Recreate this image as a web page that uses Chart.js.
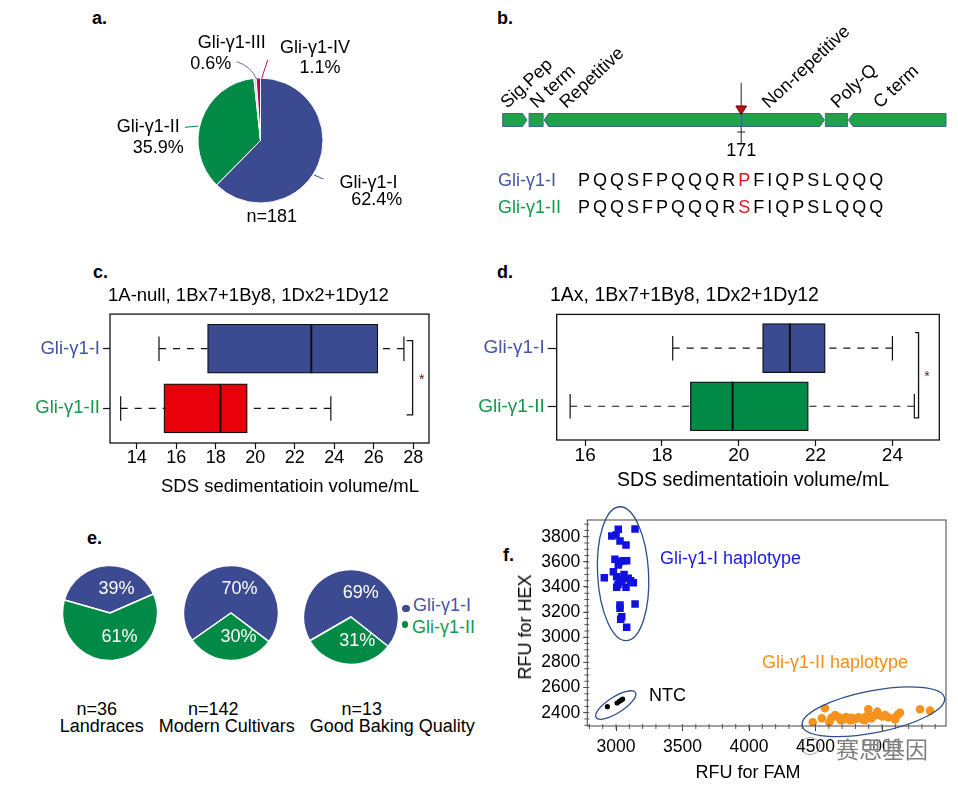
<!DOCTYPE html>
<html><head><meta charset="utf-8">
<script src="https://cdn.jsdelivr.net/npm/chart.js@4.4.1/dist/chart.umd.min.js"></script>
<style>
html,body{margin:0;padding:0;background:#fff;}
body{width:958px;height:790px;position:relative;overflow:hidden;font-family:"Liberation Sans",Arial,sans-serif;}
.t{position:absolute;white-space:nowrap;line-height:1;color:#000;}
.cv{position:absolute;}
</style></head><body>
<script>
// ---------------- DATA ----------------
// a. haplotype frequencies (n=181)
const aLabels = ['Gli-γ1-I','Gli-γ1-II','Gli-γ1-III','Gli-γ1-IV'];
const aPercent = [62.4, 35.9, 0.6, 1.1];
const aTotal = 181;
// b. gene structure (residue positions)
const bSegments = ['Sig.Pep','N term','Repetitive','Non-repetitive','Poly-Q','C term'];
const bStart = [1, 19.8, 30.5, 171.7, 231, 247.5];
const bEnd = [18.3, 29.8, 171.2, 230.3, 246.7, 317];
const bSite = 171;
const bSeqNames = ['Gli-γ1-I','Gli-γ1-II'];
const bSeqs = ['PQQSFPQQQRPFIQPSLQQQ','PQQSFPQQQRSFIQPSLQQQ'];
// c./d. boxplots
const boxCats = ['Gli-γ1-I','Gli-γ1-II'];
const boxXLabel = 'SDS sedimentatioin volume/mL';
const cTitle = '1A-null, 1Bx7+1By8, 1Dx2+1Dy12';
const cLow = [15.13, 13.19], cQ1 = [17.59, 15.38], cMedian = [22.84, 18.24], cQ3 = [26.21, 19.60], cHigh = [27.53, 23.83];
const cTicks = [14, 16, 18, 20, 22, 24, 26, 28];
const dTitle = '1Ax, 1Bx7+1By8, 1Dx2+1Dy12';
const dLow = [18.28, 15.61], dQ1 = [20.62, 18.74], dMedian = [21.33, 19.84], dQ3 = [22.25, 21.81], dHigh = [24.00, 24.57];
const dTicks = [16, 18, 20, 22, 24];
// e. haplotype share per group
const eGroups = ['Landraces','Modern Cultivars','Good Baking Quality'];
const eN = [36, 142, 13];
const eGliI = [39, 70, 69];
const eGliII = [61, 30, 31];
// f. KASP genotyping
const fBlueX = [3017,3000,2968,3143,3030,3075,2992,3055,3080,3017,2980,2912,3005,3030,3092,3130,3005,3075,3030,3143,3030,3043,3035,3080,3025,3045,3110,3015,3060];
const fBlueY = [3859,3813,3806,3861,3766,3734,3620,3609,3609,3575,3522,3474,3482,3442,3469,3434,3398,3398,3257,3265,3231,3164,3143,3079,3600,3455,3450,3420,3500];
const fNtcX = [2935,3008,3025,3040,3050];
const fNtcY = [2448,2477,2490,2500,2509];
const fOrangeX = [4479,4547,4571,4604,4647,4679,4709,4747,4784,4822,4855,4897,4905,4922,4965,5023,5047,5105,5135,5098,5286,5361,4660,4730,4770,4800,4840,4880,4950,4690,4620,5000,5120,4760,4870];
const fOrangeY = [2324,2355,2435,2324,2382,2363,2347,2355,2347,2363,2347,2427,2382,2355,2408,2382,2363,2368,2400,2347,2427,2416,2370,2365,2360,2350,2355,2370,2380,2340,2360,2370,2385,2340,2340];
const fXTicks = [3000, 3500, 4000, 4500, 5000];
const fYTicks = [2400, 2600, 2800, 3000, 3200, 3400, 3600, 3800];

// ---------------- STYLE ----------------
const FONT = '"Liberation Sans", Arial, sans-serif';
const BLUE = '#3b4a91', GREEN = '#008a45', RED = '#e8000a';
const BLUE_T = '#4654a3', GREEN_T = '#129a4a';
Chart.defaults.font.family = FONT;
Chart.defaults.font.size = 18;
Chart.defaults.color = '#000';
Chart.defaults.animation = false;
Chart.defaults.events = [];
Chart.defaults.plugins.legend.display = false;
Chart.defaults.plugins.tooltip.enabled = false;

function makeCanvas(x, y, w, h){
  const c = document.createElement('canvas');
  c.className = 'cv'; c.width = w; c.height = h;
  c.style.left = x + 'px'; c.style.top = y + 'px';
  c.style.width = w + 'px'; c.style.height = h + 'px';
  document.body.appendChild(c);
  return c;
}
function T(txt, x, y, o = {}){
  const d = document.createElement('div');
  d.className = 't'; d.textContent = txt;
  d.style.left = x + 'px'; d.style.top = y + 'px';
  d.style.fontSize = (o.size || 18) + 'px';
  if (o.color) d.style.color = o.color;
  if (o.bold) d.style.fontWeight = 'bold';
  if (o.font) d.style.fontFamily = o.font;
  if (o.spacing) d.style.letterSpacing = o.spacing + 'px';
  const tx = o.align === 'center' ? '-50%' : (o.align === 'right' ? '-100%' : '0');
  d.style.transform = `translate(${tx},-50%)` + (o.rot ? ` rotate(${o.rot}deg)` : '');
  document.body.appendChild(d);
  return d;
}
const fixedTicks = (vals) => (scale) => { scale.ticks = vals.map(v => ({value: v})); };

// ---------------- panel letters ----------------
T('a.', 92, 18, {bold:true});
T('b.', 497, 18, {bold:true});
T('c.', 93, 272, {bold:true});
T('d.', 497, 272, {bold:true});
T('e.', 87, 538, {bold:true});
T('f.', 503, 555, {bold:true});

// ---------------- a. pie ----------------
const aColors = [BLUE, GREEN, '#d3d3e6', '#b5005c'];
const aLineColors = [BLUE, GREEN, '#6a6ab0', '#b0105a'];
const aLabelPos = [
  {name:[108,42.2], pct:[116.2,59.5], line:[[53.5,34.5],[62.8,38.5]]},
  {name:[-112.2,-13.8], pct:[-102.2,7.2], line:[[-62.2,-14.5],[-75.5,-13.2]]},
  {name:[-28.8,-97.2], pct:[-49.8,-76.2], line:[[-3.8,-61.2],[-23.8,-78.8]], ctrl:[-9,-74]},
  {name:[54.5,-92.2], pct:[59.5,-72.8], line:[[1.2,-62.2],[7.2,-80.5]]}
];
const pieALabels = {
  id:'pieALabels',
  afterDatasetsDraw(chart){
    const ctx = chart.ctx; const arc = chart.getDatasetMeta(0).data[0];
    const cx = arc.x, cy = arc.y;
    ctx.save();
    ctx.font = '18px ' + FONT; ctx.textAlign = 'center'; ctx.textBaseline = 'middle';
    aLabelPos.forEach((p, i) => {
      ctx.strokeStyle = aLineColors[i]; ctx.lineWidth = 1;
      ctx.beginPath();
      ctx.moveTo(cx + p.line[0][0], cy + p.line[0][1]);
      if (p.ctrl) ctx.quadraticCurveTo(cx + p.ctrl[0], cy + p.ctrl[1], cx + p.line[1][0], cy + p.line[1][1]);
      else ctx.lineTo(cx + p.line[1][0], cy + p.line[1][1]);
      ctx.stroke();
      ctx.fillStyle = '#000';
      ctx.fillText(aLabels[i], cx + p.name[0], cy + p.name[1]);
      ctx.fillText(aPercent[i].toFixed(1) + '%', cx + p.pct[0], cy + p.pct[1]);
    });
    ctx.fillText('n=' + aTotal, cx + 11.2, cy + 76.2);
    ctx.restore();
  }
};
new Chart(makeCanvas(100, 30, 350, 200), {
  type:'pie',
  data:{labels:aLabels, datasets:[{data:aPercent, backgroundColor:aColors, borderColor:'#fff', borderWidth:1, radius:62.5, rotation:0}]},
  options:{responsive:false, layout:{padding:{left:0, right:29, top:21, bottom:0}}},
  plugins:[pieALabels]
});

// ---------------- b. gene structure ----------------
const bTips = ['right','none','left','right','none','left'];
const bLabelAt = [4.3, 25.3, 46.3, 190.7, 239.6, 269.9];
const genePlugin = {
  id:'gene',
  afterDatasetsDraw(chart){
    const ctx = chart.ctx, meta = chart.getDatasetMeta(0), xs = chart.scales.x;
    const tip = 4.5;
    ctx.save();
    let top = 0, bot = 0;
    meta.data.forEach((el, i) => {
      const p = el.getProps(['x','y','base','height'], true);
      const x0 = Math.min(p.base, p.x), x1 = Math.max(p.base, p.x);
      const t = p.y - p.height/2, b = p.y + p.height/2, m = p.y;
      top = t; bot = b;
      ctx.beginPath();
      if (bTips[i] === 'right'){ ctx.moveTo(x0,t); ctx.lineTo(x1-tip,t); ctx.lineTo(x1,m); ctx.lineTo(x1-tip,b); ctx.lineTo(x0,b); }
      else if (bTips[i] === 'left'){ ctx.moveTo(x0+tip,t); ctx.lineTo(x1,t); ctx.lineTo(x1,b); ctx.lineTo(x0+tip,b); ctx.lineTo(x0,m); }
      else { ctx.moveTo(x0,t); ctx.lineTo(x1,t); ctx.lineTo(x1,b); ctx.lineTo(x0,b); }
      ctx.closePath();
      ctx.fillStyle = '#1fa24a'; ctx.fill();
      ctx.lineWidth = 1; ctx.strokeStyle = '#41658a'; ctx.stroke();
      ctx.save();
      ctx.translate(xs.getPixelForValue(bLabelAt[i]), t - 4.5);
      ctx.rotate(-43 * Math.PI / 180);
      ctx.fillStyle = '#000'; ctx.font = '18px ' + FONT;
      ctx.textBaseline = 'alphabetic'; ctx.textAlign = 'left';
      ctx.fillText(bSegments[i], 0, 0);
      ctx.restore();
    });
    const sx = xs.getPixelForValue(bSite);
    ctx.strokeStyle = '#222'; ctx.lineWidth = 1;
    ctx.beginPath(); ctx.moveTo(sx, top - 30.5); ctx.lineTo(sx, top - 6); ctx.stroke();
    ctx.beginPath(); ctx.moveTo(sx - 5.3, top - 7.5); ctx.lineTo(sx + 5.3, top - 7.5); ctx.lineTo(sx, top + 1); ctx.closePath();
    ctx.fillStyle = '#cc0a14'; ctx.fill(); ctx.strokeStyle = '#5a0000'; ctx.stroke();
    ctx.strokeStyle = '#222';
    ctx.beginPath(); ctx.moveTo(sx, bot); ctx.lineTo(sx, bot + 16.5);
    ctx.moveTo(sx - 4, bot + 5.5); ctx.lineTo(sx + 4, bot + 5.5); ctx.stroke();
    ctx.fillStyle = '#000'; ctx.font = '18px ' + FONT; ctx.textAlign = 'center'; ctx.textBaseline = 'middle';
    ctx.fillText(String(bSite), sx, bot + 25);
    ctx.restore();
  }
};
new Chart(makeCanvas(490, 20, 468, 210), {
  type:'bar',
  data:{labels:['gene'], datasets:[{
    data: bStart.map((s, i) => ({x:[s, bEnd[i]], y:'gene'})),
    backgroundColor:'rgba(0,0,0,0)', borderWidth:0, barThickness:13
  }]},
  options:{
    responsive:false, indexAxis:'y',
    layout:{padding:{left:12.7, right:12, top:80, bottom:90}},
    scales:{x:{type:'linear', min:1, max:317, display:false}, y:{type:'category', display:false}}
  },
  plugins:[genePlugin]
});
// sequences
const seqColors = [BLUE_T, GREEN_T];
bSeqs.forEach((s, k) => {
  T(bSeqNames[k], 498, 180 + k*27, {color:seqColors[k]});
  const d = T('', 578, 180 + k*27, {spacing:3});
  let diff = -1;
  for (let i = 0; i < s.length; i++) if (bSeqs[0][i] !== bSeqs[1][i]) diff = i;
  [...s].forEach((ch, i) => {
    const sp = document.createElement('span'); sp.textContent = ch;
    if (i === diff) sp.style.color = '#e8141b';
    d.appendChild(sp);
  });
});

// ---------------- c./d. boxplots ----------------
function boxPlot(pos, cfg){
  const plug = {
    id:'boxw',
    afterDatasetsDraw(chart){
      const ctx = chart.ctx, ca = chart.chartArea, xs = chart.scales.x;
      const meta = chart.getDatasetMeta(0);
      ctx.save(); ctx.strokeStyle = '#111';
      const ys = [];
      meta.data.forEach((el, i) => {
        const p = el.getProps(['x','y','base','height'], true);
        const h = p.height, y = p.y; ys.push(y);
        const xl = xs.getPixelForValue(cfg.low[i]), xh = xs.getPixelForValue(cfg.high[i]), xm = xs.getPixelForValue(cfg.med[i]);
        const q1 = Math.min(p.base, p.x), q3 = Math.max(p.base, p.x);
        ctx.lineWidth = 1.2; ctx.setLineDash([7, 7]);
        ctx.beginPath(); ctx.moveTo(xl, y); ctx.lineTo(q1, y); ctx.moveTo(xh, y); ctx.lineTo(q3, y); ctx.stroke();
        ctx.setLineDash([]);
        ctx.beginPath(); ctx.moveTo(xl, y - h/4); ctx.lineTo(xl, y + h/4); ctx.moveTo(xh, y - h/4); ctx.lineTo(xh, y + h/4); ctx.stroke();
        ctx.lineWidth = 2; ctx.beginPath(); ctx.moveTo(xm, y - h/2); ctx.lineTo(xm, y + h/2); ctx.stroke();
      });
      ctx.lineWidth = 1.3; ctx.strokeRect(ca.left, ca.top, ca.width, ca.height);
      const br = cfg.bracket, bx = xs.getPixelForValue(br.x);
      const yt = ys[0] + br.top, yb = ys[1] + br.bottom;
      ctx.beginPath(); ctx.moveTo(bx - br.tick, yt); ctx.lineTo(bx, yt); ctx.lineTo(bx, yb); ctx.lineTo(bx - br.tick, yb); ctx.stroke();
      ctx.fillStyle = '#6b1010'; ctx.font = '14px ' + FONT; ctx.textAlign = 'center'; ctx.textBaseline = 'middle';
      ctx.fillText('*', bx + br.starDx, (yt + yb)/2 + 2);
      ctx.restore();
    }
  };
  return new Chart(makeCanvas(pos.x, pos.y, pos.w, pos.h), {
    type:'bar',
    data:{datasets:[{
      data: boxCats.map((c, i) => ({y: i + 1, x:[cfg.q1[i], cfg.q3[i]]})),
      backgroundColor: cfg.colors, borderColor:'#111', borderWidth:1.3, borderSkipped:false, barThickness:49
    }]},
    options:{
      responsive:false, indexAxis:'y',
      layout:{padding:cfg.padding},
      scales:{
        x:{type:'linear', min:cfg.xmin, max:cfg.xmax, border:{display:false},
           grid:{drawOnChartArea:false, drawTicks:true, tickLength:6, tickColor:'#111', tickWidth:1.2},
           ticks:{autoSkip:false, maxRotation:0, padding:0, font:{size:cfg.tickSize, lineHeight:1},
             callback:(v) => String(v)},
           afterBuildTicks: fixedTicks(cfg.ticks),
           afterFit(s){ s.height = cfg.xh; }},
        y:{type:'linear', reverse:true, min:0.42, max:2.58, offset:false, border:{display:false},
           grid:{offset:false, drawOnChartArea:false, drawTicks:true, tickLength:cfg.ytl, tickColor:'#111', tickWidth:1.2},
           ticks:{autoSkip:false, padding:3, font:{size:cfg.ySize},
             color:(ctx) => cfg.catColors[Math.round(ctx.tick ? ctx.tick.value : 1) - 1] || '#000',
             callback:(v) => (boxCats[Math.round(v) - 1] || '')},
           afterBuildTicks: fixedTicks(boxCats.map((c, i) => i + 1)),
           afterFit(s){ s.width = cfg.yw; }}
      }
    },
    plugins:[plug]
  });
}
boxPlot({x:20, y:300, w:430, h:200}, {
  low:cLow, q1:cQ1, med:cMedian, q3:cQ3, high:cHigh, ticks:cTicks, colors:[BLUE, RED], catColors:[BLUE_T, GREEN_T],
  xmin:12.65, xmax:28.8, padding:{left:0, right:21, top:10, bottom:0}, yw:90, xh:57, ytl:7,
  tickSize:18, ySize:18.5, bracket:{x:27.97, top:-8, bottom:6.5, tick:6, starDx:9}
});
boxPlot({x:460, y:300, w:498, h:200}, {
  low:dLow, q1:dQ1, med:dMedian, q3:dQ3, high:dHigh, ticks:dTicks, colors:[BLUE, GREEN], catColors:[BLUE_T, GREEN_T],
  xmin:15.26, xmax:25.22, padding:{left:0, right:18.7, top:7.3, bottom:0}, yw:96.7, xh:60, ytl:9,
  tickSize:19, ySize:19, bracket:{x:24.68, top:-15.6, bottom:11.7, tick:3.5, starDx:8.5}
});
T(cTitle, 108, 295, {size:18.5});
T(boxXLabel, 290, 486, {size:18.5, align:'center'});
T(dTitle, 550, 295, {size:19.5});
T(boxXLabel, 753, 480, {size:19.5, align:'center'});

// ---------------- e. pies ----------------
const ePies = [{cx:110, cy:612.5, rot:-74}, {cx:230.8, cy:613.3, rot:-125}, {cx:350.5, cy:616.8, rot:-120}];
const pctPlugin = {
  id:'pct',
  afterDatasetsDraw(chart){
    const ctx = chart.ctx, meta = chart.getDatasetMeta(0), vals = chart.data.datasets[0].data;
    ctx.save(); ctx.fillStyle = '#fff'; ctx.font = '18px ' + FONT; ctx.textAlign = 'center'; ctx.textBaseline = 'middle';
    meta.data.forEach((arc, i) => { const p = arc.tooltipPosition(true); ctx.fillText(vals[i] + '%', p.x + 8, p.y); });
    ctx.restore();
  }
};
eGroups.forEach((g, k) => {
  const P = ePies[k];
  new Chart(makeCanvas(P.cx - 50, P.cy - 50, 100, 100), {
    type:'pie',
    data:{labels:boxCats, datasets:[{data:[eGliI[k], eGliII[k]], backgroundColor:[BLUE, GREEN], borderColor:'#fff', borderWidth:1.5, radius:47.5, rotation:P.rot}]},
    options:{responsive:false, layout:{padding:0}},
    plugins:[pctPlugin]
  });
});
const eLabelX = [[96.7, 101.7], [213.3, 226.7], [361.7, 392.3]];
eGroups.forEach((g, k) => {
  T('n=' + eN[k], eLabelX[k][0], 709, {align:'center'});
  T(g, eLabelX[k][1], 726, {align:'center'});
});
// legend e
(function(){
  const dots = [[406, 608.5, 3.6, BLUE], [405, 624.5, 3.2, GREEN]];
  dots.forEach(d => {
    const s = document.createElement('div');
    s.style.cssText = `position:absolute;left:${d[0]-d[2]}px;top:${d[1]-d[2]}px;width:${2*d[2]}px;height:${2*d[2]}px;border-radius:50%;background:${d[3]}`;
    document.body.appendChild(s);
  });
  T(boxCats[0], 413, 605, {color:BLUE_T});
  T(boxCats[1], 412, 627, {color:GREEN_T});
})();

// ---------------- f. scatter ----------------
const fEllipses = [
  {x:3053, y:3506, rx:25.5, ry:67, rot:-3},
  {x:2998, y:2461, rx:23.3, ry:8, rot:-32.5},
  {x:4935, y:2408, rx:72.5, ry:21, rot:-11}
];
const fMinorStep = {x:100, y:50};
const fPlugin = {
  id:'fdeco',
  afterDatasetsDraw(chart){
    const ctx = chart.ctx, ca = chart.chartArea, xs = chart.scales.x, ys = chart.scales.y;
    ctx.save();
    ctx.strokeStyle = '#444'; ctx.lineWidth = 1;
    ctx.strokeRect(ca.left, ca.top, ca.width, ca.height);
    ctx.strokeStyle = '#555'; ctx.beginPath();
    for (let v = Math.ceil(xs.min / fMinorStep.x) * fMinorStep.x; v <= xs.max; v += fMinorStep.x){
      const px = xs.getPixelForValue(v); ctx.moveTo(px, ca.bottom - 2); ctx.lineTo(px, ca.bottom + 3);
    }
    for (let v = Math.ceil(ys.min / fMinorStep.y) * fMinorStep.y; v <= ys.max; v += fMinorStep.y){
      const py = ys.getPixelForValue(v); ctx.moveTo(ca.left - 3, py); ctx.lineTo(ca.left + 2, py);
    }
    ctx.stroke();
    ctx.strokeStyle = '#2e4f8a'; ctx.lineWidth = 1.3;
    fEllipses.forEach(e => {
      ctx.beginPath();
      ctx.ellipse(xs.getPixelForValue(e.x), ys.getPixelForValue(e.y), e.rx, e.ry, e.rot * Math.PI/180, 0, 2*Math.PI);
      ctx.stroke();
    });
    ctx.restore();
  }
};
new Chart(makeCanvas(505, 505, 453, 285), {
  type:'scatter',
  data:{datasets:[
    {data:fBlueX.map((x, i) => ({x, y:fBlueY[i]})), pointStyle:'rect', pointRadius:5.3, backgroundColor:'#1010e0', borderWidth:0},
    {data:fNtcX.map((x, i) => ({x, y:fNtcY[i]})), pointStyle:'circle', pointRadius:2.6, backgroundColor:'#000', borderWidth:0},
    {data:fOrangeX.map((x, i) => ({x, y:fOrangeY[i]})), pointStyle:'circle', pointRadius:4.3, backgroundColor:'#f6921e', borderWidth:0}
  ]},
  options:{
    responsive:false,
    layout:{padding:{left:0, right:12, top:15, bottom:0}},
    scales:{
      x:{type:'linear', min:2784, max:5481, border:{display:false},
         grid:{drawOnChartArea:false, drawTicks:true, tickLength:5, tickColor:'#333'},
         ticks:{autoSkip:false, maxRotation:0, minRotation:0, padding:7, font:{size:17.5, lineHeight:1},
           callback:(v) => String(v)},
         afterBuildTicks: fixedTicks(fXTicks),
         afterFit(s){ s.height = 64; }},
      y:{type:'linear', min:2294, max:3933, border:{display:false},
         grid:{drawOnChartArea:false, drawTicks:true, tickLength:4, tickColor:'#333'},
         ticks:{autoSkip:false, padding:3, font:{size:17.5},
           callback:(v) => String(v)},
         afterBuildTicks: fixedTicks(fYTicks),
         afterFit(s){ s.width = 82.3; }}
    }
  },
  plugins:[fPlugin]
});
T('RFU for HEX', 525, 627, {align:'center', rot:-90});
T('RFU for FAM', 748, 772, {align:'center'});
T('Gli-γ1-I haplotype', 660, 558, {color:'#1a1ae6'});
T('Gli-γ1-II haplotype', 762, 662, {color:'#f39019'});
T('NTC', 649, 695);
// watermark
(function(){
  const s = document.createElement('div');
  s.style.cssText = 'position:absolute;left:800px;top:737px;width:18px;height:16px;border:1.5px solid rgba(120,120,120,0.7);border-radius:50%;';
  document.body.appendChild(s);
  const w = T('赛思基因', 882, 748, {size:23, color:'rgba(105,105,105,0.85)', align:'center', font:'"Noto Sans CJK SC"'});
  w.style.textShadow = '0 0 2px #fff, 0 0 2px #fff';
})();
</script>
</body></html>
